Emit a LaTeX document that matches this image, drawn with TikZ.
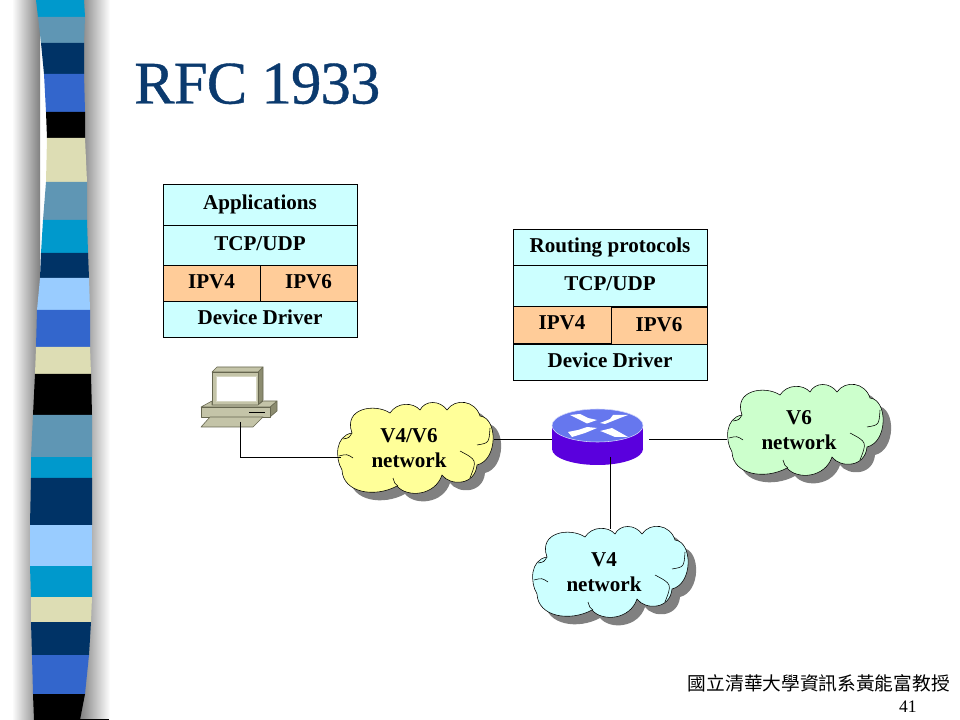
\documentclass[tikz,border=0pt]{standalone}
\usepackage{fontspec}
\setmainfont{Liberation Serif}
\newfontfamily\cjk{Noto Sans CJK TC}
\newfontfamily\titlefont[LetterSpace=-1.2, FakeBold=0.7]{Liberation Serif}

\definecolor{bandcyan}{HTML}{0099CC}
\definecolor{bandsteel}{HTML}{5F96B4}
\definecolor{bandnavy}{HTML}{003366}
\definecolor{bandblue}{HTML}{3366CC}
\definecolor{bandcream}{HTML}{DDDDB4}
\definecolor{bandlight}{HTML}{99CCFF}
\definecolor{layerblue}{HTML}{CCFFFF}
\definecolor{layerorange}{HTML}{FFCC99}
\definecolor{titlenavy}{HTML}{0B3A6E}
\definecolor{cloudyellow}{HTML}{FFFF99}
\definecolor{cloudgreen}{HTML}{CCFFCC}
\definecolor{routertop}{HTML}{6677EE}
\definecolor{routerside}{HTML}{5A00DD}
\definecolor{pclight}{HTML}{C4C4A8}
\definecolor{pcdark}{HTML}{8C8C70}
\definecolor{pcedge}{HTML}{66664F}

\def\px{0.025cm}

\tikzset{
        layer/.style={draw, semithick, fill=layerblue, inner sep=0pt, text height=.76em, text depth=0em,
                font=\fontsize{15}{16}\selectfont\bfseries},
        layerip/.style={layer, fill=layerorange},
        nettext/.style={align=center, inner sep=0pt, font=\fontsize{15}{17.7}\selectfont\bfseries},
        pcpart/.style={draw=pcedge, fill=pclight, line join=round},
        arrowmark/.style={fill=white},
        link/.style={draw, thin}
}

\newcommand{\cloudoutline}{(-63,-15) .. controls (-72,-40) and (-40,-45) .. (-25,-35)
        .. controls (-18,-46) and (-2,-46) .. (5,-38)
        .. controls (10,-48) and (25,-48) .. (32,-38)
        .. controls (40,-50) and (60,-48) .. (65,-32)
        .. controls (83,-30) and (83,12) .. (62,17)
        .. controls (60,38) and (35,38) .. (27,27)
        .. controls (20,48) and (-8,50) .. (-18,38)
        .. controls (-40,50) and (-72,45) .. (-73,22)
        .. controls (-80,10) and (-80,-12) .. (-63,-15) -- cycle}

\newcommand{\netcloud}[4]{
        \begin{scope}[shift={#3}]
                \fill[gray, shift={(8,8)}] \cloudoutline;
                \filldraw[fill=#2, thin] \cloudoutline;
                \draw[thin] (-63,-15) .. controls (-66,-10) .. (-72,-9);
                \draw[thin] (-76,8) .. controls (-68,6) .. (-62,10);
                \draw[thin] (45,3) .. controls (62,12) .. (55,30);
                \draw[thin] (75,-20) .. controls (74,-5) .. (62,-3);
                \draw[thin] (-22,30) .. controls (-20,36) .. (-17,38);
        \end{scope}
        \node[nettext, xshift=-6*\px] (#1) at #3 {#4};
}

\begin{document}
\begin{tikzpicture}[x=\px, y=-\px]
        \useasboundingbox (0,0) rectangle (960,720);

        \shade[left color=white, right color=black!50] (12,0) rectangle (40,720);
        \shade[left color=black!50, right color=white] (80,0) rectangle (110,720);
        \fill[black] (80,718.5) rectangle (109,720);

        \foreach \ya/\xa/\xb/\yb/\xc/\xd/\col in {
                0/36/84/17/38/85/bandcyan, 17/38/85/43/41/84/bandsteel, 43/41/84/74/44/84/bandnavy,
                74/44/84/112/46/85/bandblue, 112/46/85/138/47/85/black, 138/47/85/182/46/87/bandcream,
                182/46/87/220/43/87/bandsteel, 220/43/87/253/41/88/bandcyan, 253/41/88/278/40/89/bandnavy,
                278/40/89/310/37/90/bandlight, 310/37/90/347/36/90/bandblue, 347/36/90/374/35/91/bandcream,
                374/35/91/415/33/92/black, 415/33/92/457/31/92/bandsteel, 457/31/92/478/31/92/bandcyan,
                478/31/92/525/30/92/bandnavy, 525/30/92/566/30/92/bandlight, 566/30/92/597/31/92/bandcyan,
                597/31/92/622/31/91/bandcream, 622/31/91/655/32/89/bandnavy, 655/32/89/694/33/85/bandblue,
                694/33/85/720/34/80/black} {
                \fill[\col] (\xa,\ya) -- (\xb,\ya) -- (\xd,\yb) -- (\xc,\yb) -- cycle;
        }

        \node[anchor=base west, text=titlenavy, inner sep=0pt, font=\titlefont\fontsize{43}{48}\selectfont] (title) at (134,103.5) {RFC 1933};

        \node[layer, minimum width=194*\px, minimum height=41*\px] (appsleft) at (260,204.5) {Applications};
        \node[layer, minimum width=194*\px, minimum height=40*\px] (tcpleft) at (260,245) {TCP/UDP};
        \node[layerip, minimum width=97*\px, minimum height=36*\px] (ipfourleft) at (211.5,283) {IPV4};
        \node[layerip, minimum width=97*\px, minimum height=36*\px] (ipsixleft) at (308.5,283) {IPV6};
        \node[layer, minimum width=194*\px, minimum height=36*\px] (driverleft) at (260,319) {Device Driver};

        \node[layer, minimum width=194*\px, minimum height=36*\px] (routing) at (610,247) {Routing protocols};
        \node[layer, minimum width=194*\px, minimum height=41*\px] (tcpright) at (610,285.5) {TCP/UDP};
        \node[layerip, minimum width=98*\px, minimum height=37*\px] (ipfourright) at (562,324.5) {IPV4};
        \node[layerip, minimum width=96*\px, minimum height=38*\px] (ipsixright) at (659,326) {IPV6};
        \node[layer, minimum width=194*\px, minimum height=36*\px] (driverright) at (610,362) {Device Driver};

        \coordinate (pcport) at (240,422);
        \filldraw[pcpart, fill=pcdark] (258,372) -- (263,367) -- (263,400) -- (258,405) -- cycle;
        \filldraw[pcpart] (212,372) -- (217,367) -- (263,367) -- (258,372) -- cycle;
        \filldraw[pcpart] (212,372) rectangle (258,405);
        \filldraw[draw=pclight!70, fill=white] (216,376) rectangle (256,401);
        \filldraw[pcpart, fill=pcdark] (270,407) -- (277,401) -- (277,411) -- (270,417) -- cycle;
        \filldraw[pcpart] (201,407) -- (212,401) -- (212,405) -- (258,405) -- (263,401) -- (277,401) -- (270,407) -- cycle;
        \filldraw[pcpart] (201,407) rectangle (270,417);
        \draw (249,412) -- (265,412);
        \filldraw[pcpart] (201,427) -- (210,417) -- (263,417) -- (253,427) -- cycle;

        \netcloud{mixednet}{cloudyellow}{(415,448)}{V4/V6\\network}
        \netcloud{sixnet}{cloudgreen}{(805,430)}{V6\\network}
        \netcloud{fournet}{layerblue}{(610,572)}{V4\\network}

        \fill[routerside] (552,425) rectangle (643,449);
        \fill[routerside] (597.5,449) ellipse (45.5 and 16);
        \filldraw[draw=white!70!routertop, fill=routertop] (597.5,425.5) ellipse (45.5 and 16.5);
        \fill[arrowmark] (570,415) -- (580,414) -- (588,418) -- (597,420) -- (587,423.5) -- (572,416) -- cycle;
        \fill[arrowmark] (600,423) -- (610,419) -- (613,415) -- (628,415) -- (620,418) -- (605,424) -- cycle;
        \fill[arrowmark] (568,432) -- (578,430) -- (587,427) -- (597,428) -- (585,433) -- (572,437) -- cycle;
        \fill[arrowmark] (600,431) -- (612,428) -- (628,437) -- (615,437) -- (603,432) -- cycle;
        \node[inner sep=0pt, minimum width=91*\px, minimum height=56*\px] (router) at (597.5,437) {};

        \coordinate (routerwest) at (552,439);
        \coordinate (routereast) at (649,439);
        \coordinate (routersouth) at (610,457);
        \coordinate (mixedeast) at (494,439);
        \coordinate (mixedwest) at (341,457);
        \coordinate (sixwest) at (727,439);
        \coordinate (fournorth) at (610,529);

        \draw[link] (pcport) |- (mixedwest);
        \draw[link] (mixedeast) -- (routerwest);
        \draw[link] (routereast) -- (sixwest);
        \draw[link] (routersouth) -- (fournorth);

        \node[anchor=base east, inner sep=0pt, font=\cjk\fontsize{13.3}{15}\selectfont] (teacher) at (950,690) {國立清華大學資訊系黃能富教授};
        \node[anchor=base east, inner sep=0pt, font=\fontsize{12.5}{15}\selectfont] (pagenum) at (917,712) {41};
\end{tikzpicture}
\end{document}
